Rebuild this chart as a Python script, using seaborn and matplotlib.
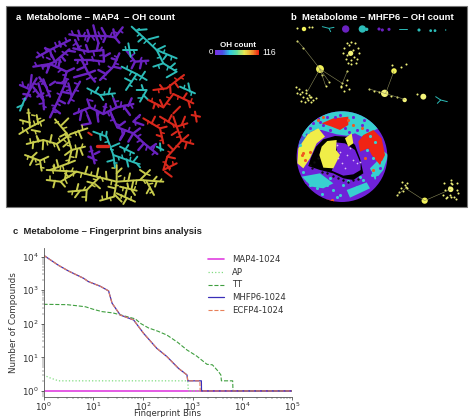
import pandas as pd
import seaborn as sns
from matplotlib import pyplot as plt
from matplotlib.colors import LinearSegmentedColormap
from matplotlib.patches import Circle
from matplotlib.ticker import LogLocator, NullFormatter

PURPLE = '#6a22c0'
TEAL = '#2cbcb8'
YELLOW = '#c8cc4c'
RED = '#d8281c'
DISC_TEAL = '#38d0d0'
DISC_PURPLE = '#6f22d8'
DISC_RED = '#f02414'
DISC_YELLOW = '#f0ee48'
OH_COLORS = ['#7a30e0', '#4a50e8', '#30c8e0', '#60e0a0', '#e8e850', '#f0a030', '#f02010']

purple_branches = [
    [(208, 103), (240, 108), (280, 108), (318, 108), (345, 112), (368, 82)],
    [(240, 108), (235, 92)], [(262, 90), (268, 108), (262, 124)], [(280, 76), (288, 108), (296, 130)],
    [(305, 84), (318, 108), (310, 126)], [(345, 112), (340, 88)], [(345, 112), (358, 128)],
    [(110, 172), (150, 150), (210, 120)], [(135, 145), (150, 150), (155, 170)], [(178, 125), (182, 140)],
    [(130, 200), (165, 185), (208, 148)], [(165, 185), (155, 165)], [(185, 170), (195, 182)],
    [(100, 200), (150, 192), (200, 215), (190, 250)], [(150, 192), (140, 218)], [(175, 202), (180, 180)],
    [(200, 215), (222, 205)], [(190, 250), (170, 248)],
    [(220, 145), (265, 155), (310, 150), (312, 185), (270, 180), (225, 180)],
    [(265, 155), (258, 135)], [(290, 152), (295, 130)], [(312, 170), (330, 160)], [(250, 180), (240, 165)],
    [(245, 180), (265, 220), (285, 245)], [(255, 200), (232, 210)], [(265, 220), (285, 212)], [(222, 232), (265, 220)],
    [(60, 255), (90, 268), (110, 235)], [(90, 268), (75, 300)], [(95, 225), (90, 268)], [(70, 282), (90, 285)],
    [(100, 262), (130, 300), (132, 328)], [(112, 290), (130, 280)], [(115, 250), (130, 300)],
    [(130, 238), (150, 290)], [(118, 232), (140, 262)], [(150, 255), (165, 245)],
    [(150, 352), (175, 300), (200, 240)], [(175, 300), (195, 310)], [(160, 325), (180, 340)], [(185, 275), (208, 280)],
    [(205, 250), (215, 290), (205, 310)], [(240, 245), (215, 290)],
    [(222, 342), (270, 322), (310, 342), (350, 322), (400, 312)], [(270, 322), (262, 298)], [(310, 342), (318, 312)],
    [(350, 322), (340, 295)], [(385, 318), (395, 295)], [(245, 332), (240, 360)], [(290, 332), (295, 365)],
    [(262, 345), (272, 370), (245, 375)], [(330, 332), (340, 360)], [(370, 318), (390, 345)],
    [(300, 240), (340, 200), (358, 160)], [(318, 222), (295, 210)], [(340, 200), (362, 205)], [(350, 180), (335, 175)],
    [(335, 345), (352, 382), (400, 400), (432, 430), (472, 462)], [(352, 382), (375, 365)], [(400, 400), (385, 425)],
    [(432, 430), (415, 450)], [(450, 445), (468, 432)], [(375, 392), (362, 415)], [(400, 400), (420, 385)],
    [(272, 440), (284, 490)], [(284, 462), (298, 455)], [(265, 470), (278, 475)],
    [(378, 150), (405, 185), (445, 182)], [(405, 185), (395, 205)], [(425, 182), (420, 205)],
    [(360, 420), (372, 400)], [(420, 345), (400, 365), (430, 375)],
    [(225, 120), (240, 150)], [(205, 152), (225, 155)],
]
# short side twigs as x, y, dx, dy
purple_twigs = [
    (220, 105, -5, -12), (232, 108, 4, 12), (250, 108, 5, -10), (258, 108, -3, 12), (275, 108, 8, 12),
    (300, 108, -5, -12), (300, 108, 5, 10), (330, 110, 6, -12), (352, 100, -10, -5), (360, 92, 8, 6),
    (120, 165, -8, -8), (125, 163, 5, 10), (140, 155, -4, -12), (160, 145, 6, 10), (170, 140, -5, -12),
    (190, 130, 8, 8), (200, 124, -4, -10), (140, 195, 5, 10), (150, 178, -10, -5), (175, 178, 8, 8),
    (195, 160, -8, -5), (195, 160, 8, 5), (110, 198, -5, -10), (125, 195, 4, 12), (165, 198, 5, -12),
    (185, 208, -10, 8), (195, 235, 10, 3), (198, 225, -10, 0), (235, 148, -2, -12), (250, 152, 4, 10),
    (280, 155, 3, 12), (300, 152, 6, -10), (310, 165, -10, 2), (295, 182, 3, 12), (280, 182, -4, -12),
    (260, 180, 2, 12), (235, 180, -3, 10), (252, 195, 10, -3), (272, 232, -12, 6), (278, 238, 10, -4),
    (70, 258, -3, -12), (82, 265, 3, -12), (100, 250, 10, 3), (82, 285, 10, 5), (78, 295, -10, 2),
    (108, 270, -8, 6), (120, 288, 10, 2), (128, 310, -10, 2), (130, 318, 8, 4), (120, 245, 10, -3),
    (135, 250, -10, 2), (142, 272, 10, 2), (148, 285, -9, 2), (158, 335, 10, 2), (166, 318, -10, -2),
    (170, 310, 10, 6), (182, 285, -10, -5), (192, 258, 10, 2), (195, 250, -8, -5), (210, 270, -10, 2),
    (212, 298, 10, 5), (225, 270, 10, 3), (232, 252, -8, -3), (235, 338, 2, -12), (255, 328, 6, 12),
    (282, 328, 4, -12), (298, 335, -4, 12), (322, 335, 6, 12), (335, 330, -4, -12), (362, 320, 2, -14),
    (375, 316, -4, 12), (392, 314, 6, 10), (268, 300, 10, 3), (310, 320, 10, 2), (345, 305, 10, -2),
    (308, 232, 10, 6), (322, 215, -5, 10), (335, 205, -10, -6), (345, 190, 10, 3), (352, 172, -8, -4),
    (342, 358, -10, 4), (348, 372, 10, 3), (365, 388, 2, 12), (385, 395, 4, -12), (412, 410, 10, -6),
    (422, 420, -10, 6), (442, 438, -4, 12), (458, 450, 5, -10), (465, 456, -8, 8), (278, 452, -10, 3),
    (282, 478, 8, 3), (392, 170, 10, -8), (400, 180, -8, 4), (420, 183, 5, -10), (435, 182, 4, 10),
    (228, 130, -8, 6), (235, 142, 8, -4), (408, 355, 10, -4), (405, 365, 2, 10),
]

yellow_branches = [
    [(58, 402), (90, 382), (132, 360)], [(85, 328), (90, 382)], [(60, 360), (90, 368)], [(110, 345), (115, 372)],
    [(95, 390), (120, 395)],
    [(80, 432), (130, 420), (170, 432), (212, 402), (262, 385)], [(110, 408), (115, 425)], [(130, 420), (128, 448)],
    [(150, 428), (155, 405)], [(170, 432), (178, 450)], [(235, 392), (245, 415)], [(100, 425), (98, 445)],
    [(165, 358), (200, 400), (215, 450), (205, 490), (150, 510)], [(185, 375), (205, 355)], [(200, 400), (180, 410)],
    [(208, 425), (190, 440)], [(215, 450), (195, 465)], [(205, 490), (225, 482)], [(175, 500), (170, 480)],
    [(75, 465), (120, 482), (125, 512)], [(95, 472), (110, 458)], [(120, 482), (145, 470)], [(100, 475), (90, 495)],
    [(215, 450), (255, 440)], [(240, 445), (248, 465)], [(232, 448), (228, 472)],
    [(140, 510), (230, 515), (290, 530), (350, 545), (420, 540), (490, 545)], [(165, 510), (160, 498)],
    [(200, 512), (195, 535)], [(255, 522), (262, 500)], [(290, 530), (295, 505)], [(320, 538), (318, 515)],
    [(385, 542), (390, 520)], [(400, 542), (395, 565)], [(460, 542), (470, 530)], [(470, 545), (465, 560)],
    [(350, 495), (350, 545), (342, 590), (300, 602)], [(350, 520), (365, 505)], [(345, 565), (325, 560)],
    [(345, 585), (365, 605)], [(320, 595), (320, 575)],
    [(205, 575), (260, 570), (300, 530)], [(260, 570), (258, 602)], [(230, 572), (235, 552)], [(280, 550), (262, 545)],
    [(240, 572), (225, 592)], [(285, 552), (300, 565)],
    [(140, 540), (182, 545), (230, 515)], [(165, 542), (160, 562)], [(182, 545), (195, 560)], [(205, 530), (195, 520)],
    [(420, 540), (450, 510)], [(440, 545), (462, 585)], [(450, 562), (440, 580)], [(435, 520), (420, 510)],
    [(350, 580), (405, 605)], [(375, 590), (380, 570)], [(380, 595), (370, 612)],
    [(360, 560), (410, 572)], [(385, 565), (382, 550)], [(395, 570), (405, 585)],
]
yellow_twigs = [
    (70, 395, -3, -12), (78, 390, 6, 10), (105, 375, -4, -12), (120, 366, 4, 12), (70, 362, 0, 10), (95, 345, 10, 2),
    (90, 340, -10, 0), (112, 358, 10, -3), (105, 392, 3, 10), (92, 428, -2, -12), (118, 422, -6, -10), (140, 423, 3, 12),
    (160, 428, 4, 12), (180, 425, -4, -10), (190, 418, 8, 8), (200, 410, -6, -8), (225, 396, 4, 10), (248, 388, -2, -12),
    (175, 365, -10, 4), (190, 385, 10, -3), (203, 412, 10, 0), (212, 438, -10, -2), (212, 470, 10, 2), (208, 480, -10, 2),
    (188, 498, 3, 10), (165, 505, -3, -12), (85, 468, -3, 10), (105, 476, 3, 10), (118, 492, -10, 2), (122, 502, 10, 2),
    (132, 477, 2, 10), (228, 447, -2, -12), (245, 442, 3, -10), (158, 510, 2, 10), (180, 512, 2, -10), (215, 514, 4, -10),
    (222, 516, -2, 12), (245, 520, -3, 12), (272, 526, 3, -10), (305, 534, 4, 10), (335, 542, -2, 12), (372, 544, 2, -12),
    (410, 541, -2, 12), (430, 540, 6, 10), (480, 545, 5, -8), (345, 505, -10, 0), (355, 530, 8, -3), (345, 555, 10, 2),
    (308, 600, -2, -12), (330, 592, 3, 10), (218, 574, -2, 10), (250, 571, 6, -10), (275, 555, 10, 5), (290, 540, -10, -3),
    (257, 590, -10, 0), (150, 541, 0, -12), (195, 538, 6, 12), (215, 525, -8, 6), (440, 522, 10, 4), (448, 552, 10, -2),
    (458, 575, -8, 4), (365, 585, -2, 10), (392, 600, 2, -10), (370, 562, -2, 10), (402, 570, 4, -10),
]

teal_branches = [
    [(395, 80), (430, 112), (470, 150), (530, 175)], [(415, 90), (440, 88)], [(430, 112), (415, 125)],
    [(445, 118), (475, 110)], [(470, 150), (495, 138)], [(500, 165), (490, 178)],
    [(470, 150), (490, 190), (460, 200)], [(490, 190), (530, 215), (500, 232)], [(510, 203), (525, 190)],
    [(370, 150), (410, 150)], [(385, 130), (392, 170)],
    [(365, 200), (410, 222), (378, 270)], [(410, 222), (440, 240)], [(395, 245), (375, 235)], [(425, 230), (435, 215)],
    [(262, 265), (300, 285), (345, 280)], [(285, 278), (295, 262)], [(300, 285), (310, 300)], [(325, 283), (330, 265)],
    [(410, 270), (440, 270), (420, 305)], [(430, 285), (445, 300)], [(425, 255), (430, 270)],
    [(280, 395), (320, 410), (340, 465), (345, 502)], [(340, 465), (410, 490), (420, 502)], [(360, 440), (402, 460)],
    [(320, 395), (318, 410)], [(300, 402), (302, 420)], [(335, 440), (358, 430)], [(380, 478), (385, 500)],
    [(375, 450), (385, 435)], [(400, 485), (412, 470)], [(340, 480), (322, 485)],
    [(60, 332), (75, 295)], [(52, 322), (68, 315)],
    [(540, 260), (585, 280)], [(565, 250), (570, 275)], [(470, 440), (490, 450)], [(480, 430), (482, 452)],
]
teal_twigs = [
    (408, 92, 10, -6), (420, 102, -8, 6), (440, 122, -8, 8), (458, 138, 8, -8), (490, 160, 4, -10), (515, 170, -2, 10),
    (482, 172, -10, 2), (475, 195, 3, 10), (505, 200, -4, 10), (522, 210, 8, -2), (378, 150, -2, -10), (400, 150, 4, 10),
    (380, 208, 2, -10), (395, 215, -6, 10), (402, 235, 8, 4), (388, 255, 8, 4), (425, 232, -6, 8), (275, 272, -2, 10),
    (312, 285, 2, -10), (335, 281, 4, 10), (425, 295, -10, 0), (305, 405, 2, -10), (325, 425, -10, 2), (332, 448, 8, 2),
    (342, 490, 8, 0), (355, 470, 2, 10), (368, 475, -2, -10), (390, 482, 2, -10), (372, 446, 2, 10), (392, 456, -2, 10),
    (410, 490, 10, 2), (552, 266, 2, -10), (575, 276, -2, 10),
]

red_branches = [
    [(460, 270), (500, 265), (552, 225)], [(480, 255), (490, 268)], [(525, 248), (535, 262)], [(510, 255), (512, 280)],
    [(445, 300), (490, 322), (520, 282)], [(465, 310), (460, 325)], [(480, 300), (490, 322)],
    [(430, 355), (480, 385), (490, 430)], [(455, 370), (465, 350)], [(480, 385), (500, 380)], [(485, 410), (470, 405)],
    [(480, 350), (530, 380), (562, 370)], [(505, 365), (515, 345)], [(520, 350), (530, 380)], [(545, 375), (555, 350)],
    [(530, 380), (545, 422), (580, 432)], [(545, 422), (565, 405)], [(560, 428), (555, 445)], [(530, 395), (515, 405)],
    [(545, 422), (502, 470), (490, 510), (530, 490)], [(520, 450), (505, 435)], [(502, 470), (525, 475)],
    [(495, 490), (510, 505)],
    [(520, 282), (580, 310)], [(550, 295), (560, 280)], [(565, 303), (570, 322)], [(520, 340), (540, 320)],
    [(265, 398), (275, 405)], [(575, 345), (600, 350)], [(585, 335), (590, 365)], [(495, 515), (515, 530)],
]
red_twigs = [
    (475, 268, 2, 10), (532, 240, -8, -6), (542, 232, 8, 5), (455, 305, 2, -10), (470, 312, 6, 10), (500, 310, 10, 4),
    (510, 295, -10, -4), (445, 362, -2, 10), (468, 378, 10, -4), (485, 398, 8, 2), (488, 420, -8, 2), (495, 358, -2, 10),
    (518, 372, 4, 10), (550, 373, 2, 10), (536, 398, 10, -2), (540, 410, -10, 2), (570, 430, 2, -10), (528, 438, 10, 3),
    (512, 458, -8, -4), (498, 485, -10, 0), (505, 500, 4, 10), (520, 495, -2, -10), (535, 288, -2, 10), (572, 306, 4, -10),
]
thick_red_bar = [(292, 438), (325, 438)]

# panel b networks, x from the second crop
net_edges = [
    [(190, 122), (208, 143), (258, 207)], [(258, 207), (220, 275)], [(258, 207), (275, 258)], [(258, 207), (285, 245)],
    [(258, 207), (325, 250), (340, 213)], [(480, 213), (455, 280)], [(572, 602), (650, 568)], [(572, 602), (515, 565)],
    [(515, 565), (490, 585)], [(405, 267), (452, 280)], [(452, 280), (512, 298)],
]
teal_edges = [[(265, 80), (285, 85), (300, 82)], [(285, 85), (290, 95)], [(495, 88), (520, 88)],
              [(605, 290), (620, 300), (640, 305)], [(620, 300), (610, 310)]]
big_x = [258, 480, 572, 210]
big_y = [207, 213, 602, 87]
big_size = [32, 16, 20, 10]
dot_x = [190, 208, 275, 285, 265, 340, 325, 320, 335, 345, 330, 322, 338, 190, 225, 235, 475, 515, 500,
         405, 420, 435, 470, 490, 550, 490,
         187, 195, 205, 215, 225, 188, 198, 208, 218, 228, 238, 200, 212, 222, 232, 245, 215, 230,
         505, 512, 520, 500, 515, 508, 518, 495,
         350, 338, 362, 330, 372, 328, 375, 335, 368, 345, 358, 350, 342, 365, 340, 360, 352,
         650, 630, 670, 632, 668, 640, 660, 628, 672, 645, 655, 636, 665, 650, 648, 652]
dot_y = [122, 143, 258, 245, 225, 213, 250, 262, 255, 268, 272, 258, 240, 85, 80, 82, 195, 193, 200,
         267, 272, 275, 287, 292, 283, 585,
         262, 268, 275, 280, 285, 278, 283, 290, 295, 292, 300, 302, 305, 300, 305, 295, 270, 290,
         545, 555, 550, 565, 562, 572, 565, 575,
         125, 130, 128, 145, 145, 160, 160, 178, 178, 135, 150, 192, 188, 190, 165, 170, 180,
         540, 550, 550, 570, 570, 592, 590, 585, 580, 560, 552, 595, 598, 548, 585, 592]
core_x = [350, 452, 568, 512, 650]
core_y = [160, 280, 290, 300, 568]
core_size = [14, 28, 18, 10, 16]
top_x = [335, 385, 398, 435, 445, 465, 555, 590, 603, 635]
top_y = [87, 87, 88, 87, 90, 88, 90, 92, 92, 90]
top_size = [28, 28, 6, 5, 5, 5, 5, 4, 4, 1]
top_hue = ['p', 't', 't', 'p', 'p', 'p', 't', 't', 't', 't']

# the coloured disc, points are in a crop with origin at pixel 290, 105
disc_center = (156, 155)
disc_radius = 136
disc_patches = [
    (DISC_TEAL, [(30, 95), (70, 25), (130, 5), (210, 10), (265, 70), (215, 95), (195, 85), (170, 92), (140, 88), (95, 75), (75, 75)]),
    (DISC_TEAL, [(270, 130), (295, 150), (280, 195), (255, 225), (240, 190), (260, 170)]),
    (DISC_TEAL, [(35, 215), (90, 205), (130, 235), (100, 250), (65, 245)]),
    (DISC_TEAL, [(170, 255), (230, 232), (240, 250), (180, 278)]),
    ('#3f63d8', [(28, 105), (50, 85), (48, 125), (25, 140)]),
    (DISC_RED, [(220, 90), (250, 75), (275, 100), (285, 150), (270, 180), (245, 150), (235, 130), (210, 140), (205, 110)]),
    (DISC_RED, [(95, 55), (130, 40), (175, 35), (175, 60), (150, 75), (125, 65)]),
    (DISC_RED, [(108, 283), (130, 286), (140, 296), (115, 296)]),
    (DISC_YELLOW, [(22, 175), (25, 130), (55, 85), (85, 70), (105, 95), (80, 115), (60, 160), (40, 190)]),
    ('black', [(55, 183), (62, 160), (78, 125), (100, 103), (135, 93), (170, 95), (195, 120), (210, 160), (220, 205),
               (190, 225), (160, 220), (130, 205), (90, 195)]),
    (DISC_PURPLE, [(135, 112), (165, 115), (195, 135), (212, 175), (212, 195), (190, 208), (160, 212), (125, 197), (145, 155)]),
    (DISC_YELLOW, [(88, 150), (95, 125), (112, 108), (140, 105), (138, 135), (150, 150), (130, 190), (100, 188)]),
    (DISC_YELLOW, [(165, 100), (185, 85), (190, 115), (175, 125)]),
]
purple_specks_x = [90, 110, 60, 150, 190, 215, 120, 165, 200, 230, 70, 100, 135, 178, 222, 85, 240, 270, 262, 45]
purple_specks_y = [50, 35, 70, 30, 35, 60, 75, 70, 75, 75, 55, 60, 35, 80, 45, 40, 200, 190, 215, 230]
teal_specks_x = [230, 255, 240, 250, 275, 60, 50, 90, 110, 130, 150, 200, 220, 245, 40, 75, 160, 185, 95, 140, 175, 210, 30, 42, 55, 80, 120]
teal_specks_y = [135, 112, 92, 160, 170, 240, 225, 225, 240, 255, 270, 245, 225, 210, 200, 215, 240, 255, 268, 275, 228, 215, 120, 90, 80, 250, 220]
red_specks_x = [250, 60, 35, 100, 85, 40, 175, 125, 45, 215, 225, 190]
red_specks_y = [195, 140, 150, 35, 45, 145, 45, 285, 165, 70, 160, 60]
pale_specks_x = [150, 170, 190, 155, 180, 140, 200, 165, 145, 210]
pale_specks_y = [140, 150, 165, 175, 130, 120, 175, 190, 160, 170]
dark_specks_x = [130, 145, 160, 175, 190, 205, 110, 95, 65, 60, 72, 85]
dark_specks_y = [212, 218, 226, 232, 226, 222, 205, 200, 190, 180, 172, 160]

# panel c, fingerprint bins
bins_mhfp = [1, 2, 3.2, 6.4, 8, 14, 20.4, 24, 35, 65, 103, 190, 305, 520, 770, 800, 1500, 1510, 1e5]
count_mhfp = [11000, 5500, 3700, 2260, 1800, 1300, 950, 407, 182, 130, 52, 18.6, 10.5, 4.7, 3, 2, 2, 1, 1]
bins_ecfp = [1, 2, 3.2, 6.4, 8, 14, 20.4, 24, 35, 65, 103, 190, 305, 520, 770, 800, 1400, 1420, 1e5]
count_ecfp = [11000, 5500, 3700, 2260, 1800, 1300, 950, 407, 182, 130, 52, 18.6, 10.5, 4.7, 3, 2, 2, 1, 1]
bins_tt = [1, 3, 5, 7, 10, 15, 25, 40, 70, 92, 130, 200, 305, 500, 770, 1200, 1950, 2500, 3300, 3700, 3800, 6400, 6500, 1e5]
count_tt = [380, 370, 340, 320, 270, 230, 210, 175, 140, 100, 75, 60, 46, 28, 16.6, 11, 6.2, 6, 3.8, 3, 2, 2, 1, 1]
bins_ap = [1, 1.3, 2, 800, 820, 1e5]
count_ap = [3, 2.5, 2, 2, 1, 1]
bins_map4 = [1, 1e5]
count_map4 = [1, 1]
series_names = ['MAP4-1024', 'AP', 'TT', 'MHFP6-1024', 'ECFP4-1024']


def to_frame(branches):
    rows = []
    for i, pts in enumerate(branches):
        for px, py in pts:
            rows.append({'x': px / 3, 'y': py / 3, 'branch': i})
    return pd.DataFrame(rows)


def draw_tree(branches, color, lw, offset=0):
    d = to_frame(branches)
    d['x'] += offset
    sns.lineplot(data=d, x='x', y='y', units='branch', estimator=None, sort=False,
                 color=color, linewidth=lw, ax=bg, legend=False, solid_capstyle='round')


def twig_lines(twigs):
    return [[(x, y), (x + dx, y + dy)] for x, y, dx, dy in twigs]


def draw_specks(xs, ys, color, size):
    px = [(v + disc_dx) / 3 + off_b for v in xs]
    py = [(v + disc_dy) / 3 for v in ys]
    pts = sns.scatterplot(x=px, y=py, s=size, color=color, linewidth=0, ax=bg, legend=False)
    pts.collections[-1].set_clip_path(clip)


sns.set_style('ticks')
plt.rcParams['font.family'] = ['DejaVu Sans']

f = plt.figure(figsize=(4.74, 4.17), dpi=100)

# black background axes in pixel coords for panels a and b
bg = f.add_axes([0, 0, 1, 1])
bg.set_xlim(0, 474)
bg.set_ylim(417, 0)
bg.axis('off')
bg.add_patch(plt.Rectangle((6, 6), 461, 201, facecolor='black', edgecolor='#777777', linewidth=0.8))

draw_tree(purple_branches, PURPLE, 1.7)
draw_tree(twig_lines(purple_twigs), PURPLE, 1.3)
draw_tree(yellow_branches, YELLOW, 1.4)
draw_tree(twig_lines(yellow_twigs), YELLOW, 1.1)
draw_tree(teal_branches, TEAL, 1.4)
draw_tree(twig_lines(teal_twigs), TEAL, 1.1)
draw_tree(red_branches, RED, 1.5)
draw_tree(twig_lines(red_twigs), RED, 1.1)
draw_tree([thick_red_bar], RED, 2.4)

off_b = 234
draw_tree(net_edges, '#8a8a5a', 0.4, off_b)
draw_tree(teal_edges, TEAL, 0.7, off_b)
sns.scatterplot(x=[v / 3 + off_b for v in dot_x], y=[v / 3 for v in dot_y], s=2.2, color='#eef07a',
                linewidth=0, ax=bg, legend=False)
sns.scatterplot(x=[v / 3 + off_b for v in big_x], y=[v / 3 for v in big_y], size=big_size, sizes=(10, 32),
                color='#f2f25a', linewidth=0, ax=bg, legend=False)
sns.scatterplot(x=[v / 3 + off_b for v in core_x], y=[v / 3 for v in core_y], size=core_size, sizes=(10, 28),
                color='#f4f47a', linewidth=0, ax=bg, legend=False)
sns.scatterplot(x=[v / 3 + off_b for v in top_x], y=[v / 3 for v in top_y], size=top_size, sizes=(1, 28),
                hue=top_hue, palette={'p': PURPLE, 't': TEAL}, linewidth=0, ax=bg, legend=False)

disc_dx = 168
disc_dy = 315
cx = (disc_center[0] + disc_dx) / 3 + off_b
cy = (disc_center[1] + disc_dy) / 3
clip = Circle((cx, cy), disc_radius / 3, transform=bg.transData)
bg.add_patch(Circle((cx, cy), disc_radius / 3, facecolor=DISC_PURPLE, edgecolor='none'))
for col, poly in disc_patches:
    for p in bg.fill([(q[0] + disc_dx) / 3 + off_b for q in poly], [(q[1] + disc_dy) / 3 for q in poly],
                     color=col, linewidth=0):
        p.set_clip_path(clip)
draw_specks(purple_specks_x, purple_specks_y, DISC_PURPLE, 5)
draw_specks(teal_specks_x, teal_specks_y, DISC_TEAL, 5)
draw_specks(red_specks_x, red_specks_y, '#f05a20', 5)
draw_specks(pale_specks_x, pale_specks_y, '#e0c0f0', 1.5)
draw_specks(dark_specks_x, dark_specks_y, '#101010', 3)
bg.set_xlim(0, 474)
bg.set_ylim(417, 0)
bg.set_xlabel('')
bg.set_ylabel('')

title_font = dict(family='Liberation Sans', fontweight='bold', fontsize=6.8, va='center')
bg.text(16, 17, 'a  Metabolome – MAP4  – OH count', color='white', **title_font)
bg.text(291, 17, 'b  Metabolome – MHFP6 – OH count', color='white', **title_font)
bg.text(13, 231, 'c  Metabolome – Fingerprint bins analysis', color='#222222', **title_font)
bg.text(238, 45.5, 'OH count', color='white', ha='center', family='Liberation Sans', fontweight='bold', fontsize=5.8, va='center')
bg.text(209, 52.5, '0', color='white', ha='left', family='Liberation Sans', fontsize=5.8, va='center')
bg.text(262, 52.5, '116', color='white', ha='left', family='Liberation Sans', fontsize=6.2, va='center')

# colour bar
cax = f.add_axes([215 / 474, 1 - 54.5 / 417, 44 / 474, 4 / 417])
cmap = LinearSegmentedColormap.from_list('oh', OH_COLORS)
sns.heatmap([list(range(64))], cmap=cmap, cbar=False, xticklabels=False, yticklabels=False, ax=cax)

# panel c
ax = f.add_axes([43.5 / 474, 1 - 397 / 417, (292 - 43.5) / 474, (397 - 248) / 417])
ax.set_xscale('log')
ax.set_yscale('log')
sns.lineplot(x=bins_map4, y=count_map4, color='#e040e0', linewidth=1.2, label=series_names[0], ax=ax, estimator=None, sort=False)
sns.lineplot(x=bins_ap, y=count_ap, color='#80dc80', linewidth=0.9, linestyle=':', label=series_names[1], ax=ax, estimator=None, sort=False)
sns.lineplot(x=bins_tt, y=count_tt, color='#3f9f3f', linewidth=0.8, linestyle='--', label=series_names[2], ax=ax, estimator=None, sort=False)
sns.lineplot(x=bins_mhfp, y=count_mhfp, color='#3a2fb8', linewidth=0.9, label=series_names[3], ax=ax, estimator=None, sort=False)
sns.lineplot(x=bins_ecfp, y=count_ecfp, color='#e8805a', linewidth=0.8, linestyle='--', label=series_names[4], ax=ax, estimator=None, sort=False)
ax.set_xlim(1, 1e5)
ax.set_ylim(0.66, 1.8e4)
ax.patch.set_alpha(0)
for s in ['top', 'right']:
    ax.spines[s].set_visible(False)
for s in ['left', 'bottom']:
    ax.spines[s].set_linewidth(0.6)
    ax.spines[s].set_color('#555555')
ax.xaxis.set_major_locator(LogLocator(base=10, numticks=8))
ax.yaxis.set_major_locator(LogLocator(base=10, numticks=8))
ax.xaxis.set_minor_locator(LogLocator(base=10, subs=range(2, 10), numticks=12))
ax.yaxis.set_minor_locator(LogLocator(base=10, subs=range(2, 10), numticks=12))
ax.xaxis.set_minor_formatter(NullFormatter())
ax.yaxis.set_minor_formatter(NullFormatter())
ax.tick_params(which='major', length=2, width=0.5, labelsize=6.4, pad=1.2, colors='#333333')
ax.tick_params(axis='x', which='major', pad=0.3)
ax.tick_params(which='minor', length=1.2, width=0.3)
ax.set_xlabel('Fingerprint Bins', fontsize=6.1, color='#333333', va='center')
ax.xaxis.set_label_coords(0.5, -0.108)
ax.set_ylabel('Number of Compounds', fontsize=6.35, labelpad=3, color='#333333')
leg = ax.legend(loc='upper left', bbox_to_anchor=(164.5 / 248.5, 0.955), frameon=False, fontsize=6.1,
                handlelength=1.9, labelspacing=0.46, handletextpad=0.95, borderpad=0, borderaxespad=0, labelcolor='#333333')

f.savefig('out.png', dpi=100)
print('wrote chart')
